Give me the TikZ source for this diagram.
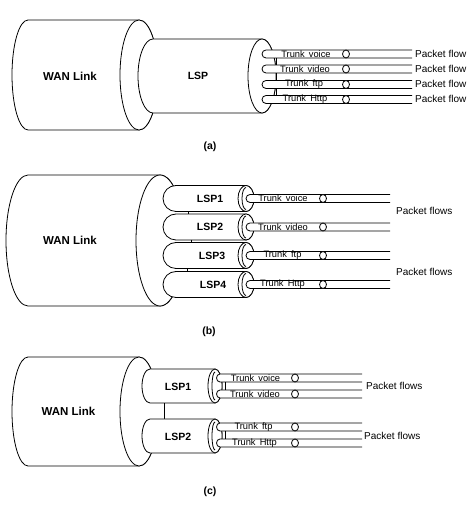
\documentclass[tikz,border=0pt]{standalone}
\usepackage{fontspec}
\setmainfont{Liberation Sans}
\tikzset{
  cyl/.style={line width=0.8pt, fill=white},
  ln/.style={line width=0.8pt},
  big/.style={font=\bfseries\fontsize{11.5}{13}\selectfont},
  lsp/.style={font=\bfseries\fontsize{10.5}{12}\selectfont},
  trk/.style={font=\fontsize{9.3}{10}\selectfont, inner sep=0pt},
  pf/.style={font=\fontsize{10}{12}\selectfont, anchor=west, inner sep=0pt},
  capt/.style={font=\bfseries\fontsize{10.5}{12}\selectfont},
}
% cylinder: xl, xr, yc (image coords), rx left, rx right, ry
\newcommand\cyl[6]{%
  \pgfmathsetmacro\cY{513-#3}%
  \filldraw[cyl] (#1,\cY+#6) -- (#2,\cY+#6)
     arc[start angle=90,end angle=-90,x radius=#5pt,y radius=#6pt]
     -- (#1,\cY-#6)
     arc[start angle=270,end angle=90,x radius=#4pt,y radius=#6pt] -- cycle;
  \draw[cyl] (#2,\cY) ellipse[x radius=#5pt,y radius=#6pt];
}
% trunk: xl, xm, xe, yc, rx, ry
\newcommand\trunk[6]{%
  \pgfmathsetmacro\tY{513-#4}%
  \fill[white] (#3,\tY+#6) -- (#1,\tY+#6)
     arc[start angle=90,end angle=270,x radius=#5pt,y radius=#6pt]
     -- (#3,\tY-#6) -- cycle;
  \draw[ln] (#3,\tY+#6) -- (#1,\tY+#6)
     arc[start angle=90,end angle=270,x radius=#5pt,y radius=#6pt]
     -- (#3,\tY-#6);
  \draw[ln,fill=white] (#2,\tY) ellipse[x radius=3.5pt,y radius=#6pt];
}
% inner left half arc: x, yc, rx, ry
\newcommand\innerarc[4]{%
  \pgfmathsetmacro\aY{513-#2}%
  \draw[ln] (#1,\aY+#4) arc[start angle=90,end angle=270,x radius=#3pt,y radius=#4pt];
}
% vertical link: x, y1, y2 (image coords)
\newcommand\vlink[3]{%
  \draw[ln] (#1,513-#2) -- (#1,513-#3);
}
% white gap filler: x1, x2, y1, y2 (image coords)
\newcommand\gapfill[4]{%
  \fill[white] (#1,513-#3) rectangle (#2,513-#4);
}
\begin{document}
\begin{tikzpicture}[x=1pt,y=1pt]
\useasboundingbox (0,0) rectangle (474,513);
% ---------------- (a)
\cyl{28}{139}{75}{16}{19}{55}
\cyl{153}{262}{76}{15}{14}{37}
\foreach \yy in {54,69,84.5,99.5} {\trunk{266}{346}{412}{\yy}{4}{4}}
\vlink{276}{58}{65}
\vlink{276}{73}{80.5}
\vlink{276}{88.5}{95.5}
\node[big] (wana) at (70,513-76) {WAN Link};
\node[lsp] (lspa) at (198,513-76) {LSP};
\node[trk] (ta1) at (306,513-54) {Trunk\, voice};
\node[trk] (ta2) at (305,513-69) {Trunk\, video};
\node[trk] (ta3) at (304,513-84.5) {Trunk\, ftp};
\node[trk] (ta4) at (305,513-99.5) {Trunk\, Http};
\node[pf] (pa1) at (415,513-53.5) {Packet flow};
\node[pf] (pa2) at (415,513-68.5) {Packet flow};
\node[pf] (pa3) at (415,513-84) {Packet flow};
\node[pf] (pa4) at (415,513-99) {Packet flow};
\node[capt] (capa) at (210,513-147) {(a)};
% ---------------- (b)
\cyl{28}{160}{240.5}{22}{24}{65.5}
\gapfill{176}{240}{198.5}{284.5}
\foreach \yy in {198.5,227,255.5,284.5} {
  \cyl{176}{246}{\yy}{13}{8}{13}
  \innerarc{246}{\yy}{4}{11}
  \trunk{250}{323}{390}{\yy}{4}{4}
}
\vlink{188}{211.5}{214}
\vlink{191}{240}{242.5}
\vlink{187}{268.5}{271.5}
\node[big] (wanb) at (70,513-240) {WAN Link};
\node[lsp] (lsp1b) at (210,513-198.5) {LSP1};
\node[lsp] (lsp2b) at (210,513-227) {LSP2};
\node[lsp] (lsp3b) at (212,513-255.5) {LSP3};
\node[lsp] (lsp4b) at (213,513-284.5) {LSP4};
\node[trk] (tb1) at (283,513-198.5) {Trunk\, voice};
\node[trk] (tb2) at (283,513-227) {Trunk\, video};
\node[trk] (tb3) at (282.5,513-255.5) {Trunk\, ftp};
\node[trk] (tb4) at (282.5,513-284.5) {Trunk\, Http};
\node[pf] (pb1) at (396,513-211) {Packet flows};
\node[pf] (pb2) at (396,513-271.5) {Packet flows};
\node[capt] (capb) at (209,513-332) {(b)};
% ---------------- (c)
\cyl{28}{139}{411.5}{16}{19}{54.5}
\gapfill{150}{210}{386}{436}
\vlink{164}{403}{419}
\cyl{150}{215}{386}{8}{7}{17}
\cyl{150}{215}{436}{8}{7}{17}
\innerarc{215}{386}{3}{14}
\innerarc{215}{436}{3}{14}
\foreach \yy in {378,394,427,443} {\trunk{220}{295}{362}{\yy}{3.5}{4}}
\vlink{225}{382}{390}
\vlink{225}{431}{439}
\node[big] (wanc) at (68.5,513-411) {WAN Link};
\node[lsp] (lsp1c) at (178,513-387) {LSP1};
\node[lsp] (lsp2c) at (178,513-437) {LSP2};
\node[trk] (tc1) at (255.5,513-378) {Trunk\, voice};
\node[trk] (tc2) at (255,513-394) {Trunk\, video};
\node[trk] (tc3) at (253.5,513-427) {Trunk\, ftp};
\node[trk] (tc4) at (254.5,513-443) {Trunk\, Http};
\node[pf] (pc1) at (366,513-386) {Packet flows};
\node[pf] (pc2) at (364,513-436) {Packet flows};
\node[capt] (capc) at (210,513-492) {(c)};
\end{tikzpicture}
\end{document}
